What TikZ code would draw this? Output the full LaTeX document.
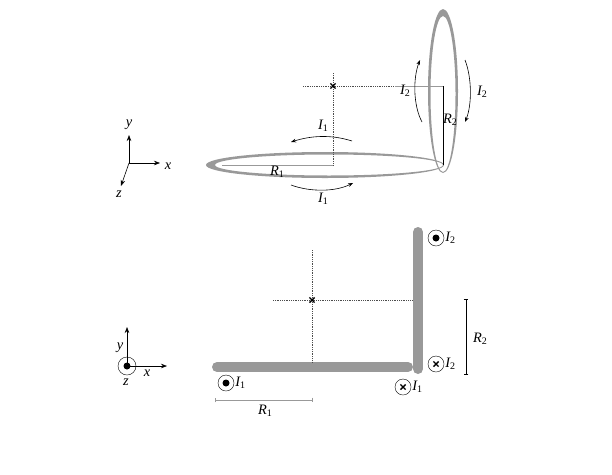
\documentclass[tikz,border=0pt]{standalone}
\usetikzlibrary{arrows.meta}
\usepackage{fontspec}
\setmainfont{Liberation Serif}
\begin{document}
\begin{tikzpicture}[x=1pt,y=-1pt,
  lbl/.style={font=\Large\itshape,inner sep=1pt},
  cur/.style={-{Stealth[length=5pt]},semithick},
  ax/.style={-{Stealth[length=6pt]},semithick},
  dot/.style={dash pattern=on 0.6pt off 1.2pt,line width=0.4pt,black!70},
  sym/.style={circle,draw,minimum size=16pt,inner sep=0pt},
  xm/.pic={\draw[line width=1.4pt] (-2.6,-2.6) -- (2.6,2.6) (-2.6,2.6) -- (2.6,-2.6);}]
\useasboundingbox (0,0) rectangle (612,474);
\definecolor{ring}{gray}{0.6}
\newcommand{\sub}[1]{\raisebox{-0.35ex}{\normalsize\upshape #1}}
% top rings
\fill[ring,even odd rule] (325,165) ellipse [x radius=119,y radius=13] (329,165) ellipse [x radius=114,y radius=10.5];
\fill[ring,even odd rule] (443,91) ellipse [x radius=15,y radius=82] (443,94) ellipse [x radius=12.5,y radius=78];
\coordinate (C) at (333,86);
\coordinate (C1) at (333,165);
\coordinate (C2) at (443,86);
\coordinate (E1) at (222,165);
\coordinate (E2) at (443,165);
\draw[dot] (303,86) -- (395,86);
\draw[ring,thin] (395,86) -- (C2);
\draw[dot] (333,73) -- (C1);
\draw[ring,thin] (C1) -- (E1);
\draw[thin] (C2) -- (E2);
\pic at (C) {xm};
\node[lbl] (R1t) at (277,172) {R\sub{1}};
\node[lbl] (R2t) at (450,120) {R\sub{2}};
\node[lbl] (I1a) at (323,126) {I\sub{1}};
\node[lbl] (I1b) at (323,199) {I\sub{1}};
\node[lbl] (I2a) at (405,91) {I\sub{2}};
\node[lbl] (I2b) at (482,92) {I\sub{2}};
\draw[cur] (352,141) .. controls (330,134) and (310,136) .. (291,142);
\draw[cur] (291,185) .. controls (310,192) and (335,192) .. (353,183);
\draw[cur] (422,122) .. controls (413,105) and (413,78) .. (420,60);
\draw[cur] (465,60) .. controls (472,78) and (472,105) .. (465,122);
% top axes
\coordinate (O1) at (129,163);
\draw[ax] (O1) -- (129,135) coordinate (Y1);
\draw[ax] (O1) -- (160,163) coordinate (Xa1);
\draw[ax] (O1) -- (121,186) coordinate (Z1);
\node[lbl] (ly1) at (129,125) {y};
\node[lbl] (lx1) at (168,166) {x};
\node[lbl] (lz1) at (119,194) {z};
% bottom
\draw[ring,line width=10pt,line cap=round] (217,367) -- (408,367);
\draw[ring,line width=10pt,line cap=round] (418,232) -- (418,369);
\draw[dot] (273,300) -- (412,300);
\draw[dot] (312,250) -- (312,363);
\pic at (312,300) {xm};
\node[sym] (s1) at (226,383) {};
\node[sym] (s2) at (403,387) {};
\node[sym] (s3) at (436,238) {};
\node[sym] (s4) at (436,364) {};
\fill (s1.center) circle (3.5);
\fill (s3.center) circle (3.5);
\pic at (s2.center) {xm};
\pic at (s4.center) {xm};
\node[lbl,anchor=west] at (s1.east) {I\sub{1}};
\node[lbl,anchor=west] at (s2.east) {I\sub{1}};
\node[lbl,anchor=west] at (s3.east) {I\sub{2}};
\node[lbl,anchor=west] at (s4.east) {I\sub{2}};
\draw[ring,thin,|-|] (215,400) -- (312,400);
\node[lbl] (R1b) at (265,411) {R\sub{1}};
\draw[thin,|-|] (466,299) -- (466,374);
\node[lbl] (R2b) at (480,339) {R\sub{2}};
% bottom axes
\node[circle,draw,minimum size=18pt,inner sep=0pt] (O2) at (127,366) {};
\fill (O2.center) circle (3.5);
\draw[ax] (O2.center) -- (127,327);
\draw[ax] (O2.center) -- (167,366);
\node[lbl] at (120,348) {y};
\node[lbl] at (147,373) {x};
\node[lbl] at (126,382) {z};
\end{tikzpicture}
\end{document}
